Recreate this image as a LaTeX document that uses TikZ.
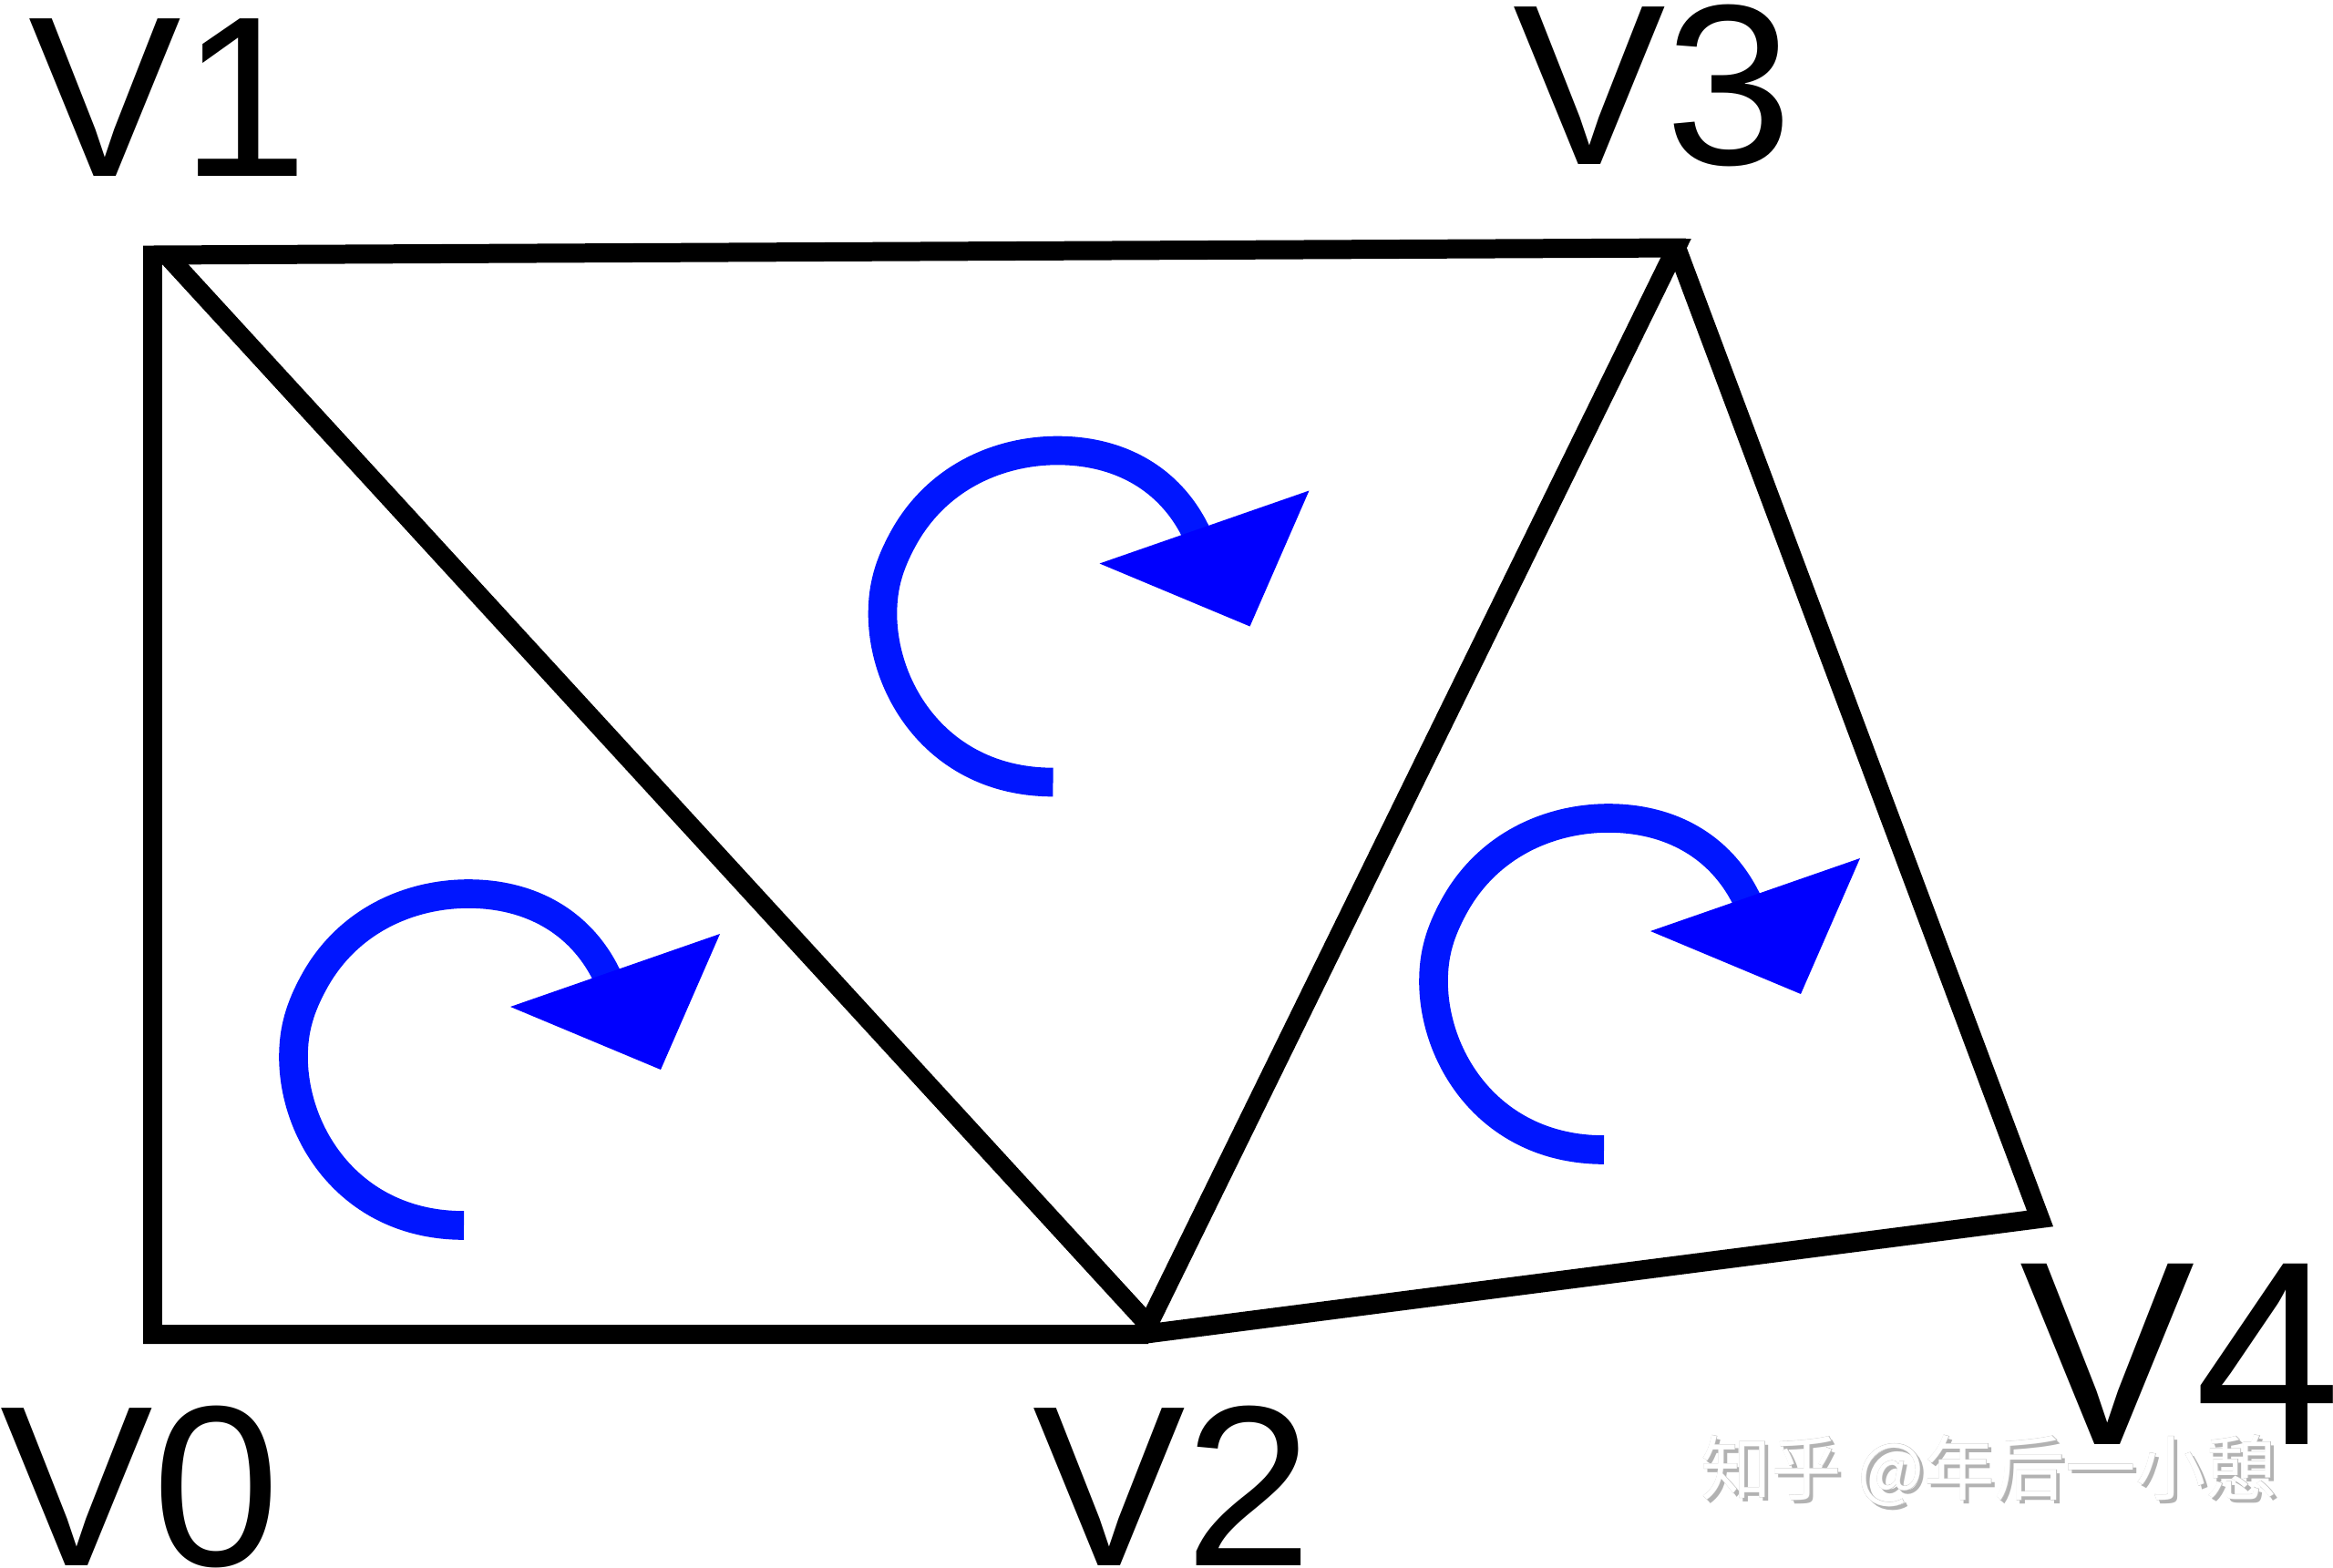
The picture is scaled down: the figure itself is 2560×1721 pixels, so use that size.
\documentclass[tikz,border=0pt]{standalone}
\usepackage{fontspec}
\setmainfont{Liberation Sans}
\newfontfamily\cjkfont{Noto Sans CJK SC}
\newfontfamily\cjkoutline[FakeBold=0.6]{Noto Sans CJK SC}
\definecolor{arcblue}{HTML}{0016FF}
\tikzset{
  edge/.style={draw=black,line width=11.95pt,miter limit=10},
  vlabel/.style={inner sep=0pt,anchor=base west,font=\fontsize{143}{143}\selectfont},
  mark text/.style={inner sep=0pt,anchor=base west,font=\cjkfont\fontsize{44}{44}\selectfont},
}
\begin{document}
\begin{tikzpicture}[x=0.02cm,y=-0.02cm]
\useasboundingbox (0,0) rectangle (2560,1721);
\coordinate (p0) at (167.5,1464.5);
\coordinate (p1) at (167.5,280);
\coordinate (p2) at (1260,1464.5);
\coordinate (p3) at (1850,272);
\coordinate (p4) at (2238.5,1337.5);
\coordinate (p1d) at (183,280); % diagonal starts inside the top bar
\coordinate (p2d) at (1262,1456);
\coordinate (p2r) at (1258,1464);
\coordinate (p2u) at (1257,1460);
\coordinate (p3u) at (1849,252);
\coordinate (p3r) at (1840,273);
\draw[edge] (p2) -- (p0) -- (p1) -- (p3);
\draw[edge] (p3r) -- (p4) -- (p2r);
\draw[edge] (p1d) -- (p2d);
\begin{scope}
\clip (1200,262) rectangle (1900,1500); % top of this edge is level with the bar
\draw[edge] (p2u) -- (p3u);
\end{scope}
\foreach \dx/\dy in {0/0,646.5/-486.5,1251/-83} {
\begin{scope}[shift={(\dx,\dy)}]
\draw[arcblue,line width=18pt] (509,1345) .. controls (385,1345) and (322,1245) .. (322,1160)
  .. controls (322,1130) and (329,1106) .. (345,1077) .. controls (382,1010) and (450,981) .. (514,981)
  .. controls (585,981) and (645,1015) .. (672,1085);
\fill[blue] (560,1105) -- (790,1025) -- (725,1174) -- cycle;
\end{scope}
}
\node[vlabel] (v0) at (0,1718) {V0};
\node[vlabel] (v1) at (31,193) {V1};
\node[vlabel] (v2) at (1133,1718) {V2};
\node[vlabel] (v3) at (1660,180) {V3};
\node[vlabel,font=\fontsize{164}{164}\selectfont] (v4) at (2216,1585) {V4};
% watermark
\node[mark text,text=black!30] (markshadow) at (1870,1644) {知乎 @年后一小憩};
\node[mark text,font=\cjkoutline\fontsize{44}{44}\selectfont,text=black!25] (markline) at (1866,1640) {知乎 @年后一小憩};
\node[mark text,text=white] (mark) at (1866,1640) {知乎 @年后一小憩};
\end{tikzpicture}
\end{document}
